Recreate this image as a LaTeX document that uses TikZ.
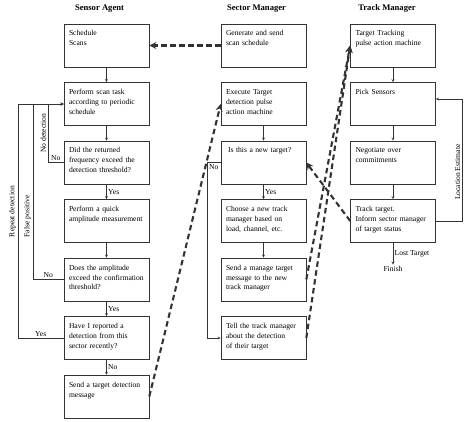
\documentclass[tikz,border=0pt]{standalone}
\usepackage{fontspec}
\setmainfont{Liberation Serif}
\usetikzlibrary{arrows,positioning}

\begin{document}
\begin{tikzpicture}[x=1pt,y=-1pt,->,>=stealth,node distance=58.5pt,draw=black!80,
        stage/.style={rectangle,draw=black!80,line width=0.6pt,text width=75pt,inner xsep=5pt,inner ysep=4pt,
          text height=8pt,text depth=27pt,align=left,font=\fontsize{7.6}{10}\selectfont},
        head/.style={font=\fontsize{8.6}{10}\selectfont\bfseries},
        note/.style={font=\fontsize{7.6}{9}\selectfont,inner sep=1.5pt},
        msg/.style={line width=2.1pt,dash pattern=on 5.5pt off 3.5pt}]
        \useasboundingbox (0,0) rectangle (474,422);
        % sensor agent
        \node[stage]  (s1) at (106.5,45.5) {Schedule\\Scans};
        \node[stage]  (s2) [below of=s1] {Perform scan task\\according to periodic\\schedule};
        \node[stage]  (s3) [below of=s2] {Did the returned\\frequency exceed the\\detection threshold?};
        \node[stage]  (s4) [below of=s3] {Perform a quick\\amplitude measurement};
        \node[stage]  (s5) [below of=s4] {Does the amplitude\\exceed the confirmation\\threshold?};
        \node[stage]  (s6) [below of=s5] {Have I reported a\\detection from this\\sector recently?};
        \node[stage]  (s7) [below of=s6] {Send a target detection\\message};
        % sector manager
        \node[stage]  (m1) [right of=s1,node distance=157pt] {Generate and send\\scan schedule};
        \node[stage]  (m2) [below of=m1] {Execute Target\\detection pulse\\action machine};
        \node[stage]  (m3) [below of=m2] {\hspace{2pt}Is this a new target?};
        \node[stage]  (m4) [below of=m3] {Choose a new track\\manager based on\\load, channel, etc.};
        \node[stage]  (m5) [below of=m4] {Send a manage target\\message to the new\\track manager};
        \node[stage]  (m6) [below of=m5] {Tell the track manager\\about the detection\\of their target};
        % track manager
        \node[stage]  (t1) [right of=m1,node distance=129.5pt] {Target Tracking\\pulse action machine};
        \node[stage]  (t2) [below of=t1] {Pick Sensors};
        \node[stage]  (t3) [below of=t2] {Negotiate over\\commitments};
        \node[stage]  (t4) [below of=t3] {Track target.\\Inform sector manager\\of target status};
        \node[note]   (fin) [below of=t4,node distance=48pt] {Finish};
        \node[head]   (h1) [above of=s1,node distance=37pt,xshift=-7pt] {Sensor Agent};
        \node[head]   (h2) [above of=m1,node distance=37pt,xshift=-7pt] {Sector Manager};
        \node[head]   (h3) [above of=t1,node distance=37pt,xshift=-6pt] {Track Manager};
        \path
          (s1) edge (s2)
          (s2) edge (s3)
          (s3) edge node[right,note] {Yes} (s4)
          (s4) edge (s5)
          (s5) edge node[right,note] {Yes} (s6)
          (s6) edge node[right,note] {No} (s7)
          (m2) edge (m3)
          (m3) edge node[right,note] {Yes} (m4)
          (m4) edge (m5)
          (t1) edge (t2)
          (t2) edge (t3)
          (t3) edge (t4)
          (t4) edge node[right,note] {Lost Target} (fin)
          ;
        % loops back
        \draw (s3.west) -- node[above,note] {No} ++(-16,0) |- node[pos=0.25,sloped,above,note] {No detection} (s2.west);
        \draw (s5.west) -- node[above,note] {No} ++(-31,0) |- node[pos=0.18,sloped,above,note] {False positive} (s2.west);
        \draw (s6.west) -- node[above,note] {Yes} ++(-46,0) |- node[pos=0.27,sloped,above,note] {Repeat detection} (s2.west);
        \draw (m3.west) -- node[below,note] {No} ++(-14,0) |- (m6.west);
        \draw (t4.east) -- ++(26,0) |- node[pos=0.2,sloped,above,note] {Location Estimate} ([yshift=5pt]t2.east);
        % messages
        \draw[msg] (m1) -- (s1);
        \draw[msg] (s7.east) -- (m2.west);
        \draw[msg] (m5.east) -- (t1.west);
        \draw[msg] (m6.east) -- (t1.west);
        \draw[msg] (t4.west) -- (m3.east);
      \end{tikzpicture}
\end{document}
